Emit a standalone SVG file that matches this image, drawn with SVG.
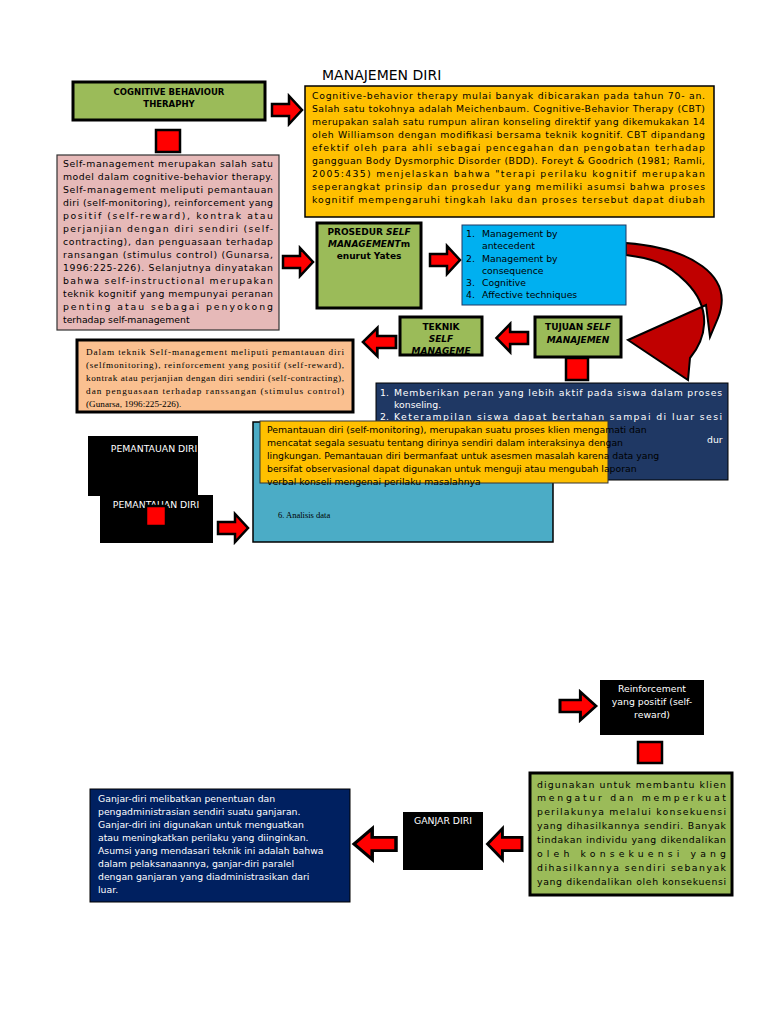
<svg xmlns="http://www.w3.org/2000/svg" width="768" height="1024" viewBox="0 0 768 1024">
<style>
.b{stroke:#000;stroke-width:3}
.t{font-family:"DejaVu Sans",sans-serif;font-size:9.3px;fill:#000}
.w{font-family:"DejaVu Sans",sans-serif;font-size:9.3px;fill:#fff}
.h{font-family:"DejaVu Sans",sans-serif;font-size:9px;font-weight:bold;fill:#000;text-anchor:middle}
.s{font-family:"Liberation Serif",serif;font-size:9.2px;fill:#000}
.ar{fill:#ff0000;stroke:#000;stroke-width:2.5}
</style>
<defs>
<path id="ar" d="M0,-6 H17 V-14 L30,0 L17,14 V6 H0 Z"/>
</defs>
<rect width="768" height="1024" fill="#fff"/>
<text x="322" y="80" style="font-family:'DejaVu Sans',sans-serif;font-size:14px">MANAJEMEN DIRI</text>

<g id="connectors">
<use href="#ar" class="ar" transform="translate(272,110)"/>
<rect x="156" y="130" width="24" height="22" class="ar"/>
<use href="#ar" class="ar" transform="translate(283,262)"/>
<use href="#ar" class="ar" transform="translate(430,260)"/>
<path d="M626,243 C690,248 735,275 718,318 L710,337 L706,305 L628,340 L688,380 L690,358 C705,340 714,310 686,282 C666,262 650,258 626,255 Z" fill="#c00000" stroke="#000" stroke-width="2"/>
<use href="#ar" class="ar" transform="translate(528,338) scale(-1.05,1)"/>
<use href="#ar" class="ar" transform="translate(396,342) scale(-1.1,1)"/>
<rect x="566" y="358" width="22" height="22" class="ar"/>
<use href="#ar" class="ar" transform="translate(218,528)"/>
<use href="#ar" class="ar" transform="translate(560,706) scale(1.2,1)"/>
<rect x="638" y="742" width="24" height="21" class="ar"/>
<use href="#ar" class="ar" transform="translate(522,844) scale(-1.15,1.1)"/>
<use href="#ar" class="ar" transform="translate(396,844) scale(-1.4,1.1)"/>
</g>

<g id="cbt">
<rect x="73" y="82" width="192" height="38" fill="#9bbb59" class="b"/>
<text x="169" y="95" class="h" style="font-size:8.5px">COGNITIVE BEHAVIOUR</text>
<text x="169" y="107" class="h" style="font-size:8.5px">THERAPHY</text>
</g>

<g id="cbt-text">
<rect x="305" y="86" width="409" height="131" fill="#ffc000" stroke="#000" stroke-width="1.5"/>
<text class="t">
<tspan x="312" y="99" textLength="393" lengthAdjust="spacing">Cognitive-behavior therapy mulai banyak dibicarakan pada tahun 70- an.</tspan>
<tspan x="312" y="112" textLength="393" lengthAdjust="spacing">Salah satu tokohnya adalah Meichenbaum. Cognitive-Behavior Therapy (CBT)</tspan>
<tspan x="312" y="125" textLength="393" lengthAdjust="spacing">merupakan salah satu rumpun aliran konseling direktif yang dikemukakan 14</tspan>
<tspan x="312" y="138" textLength="393" lengthAdjust="spacing">oleh Williamson dengan modifikasi bersama teknik kognitif. CBT dipandang</tspan>
<tspan x="312" y="151" textLength="393" lengthAdjust="spacing">efektif oleh para ahli sebagai pencegahan dan pengobatan terhadap</tspan>
<tspan x="312" y="164" textLength="393" lengthAdjust="spacing">gangguan Body Dysmorphic Disorder (BDD). Foreyt &amp; Goodrich (1981; Ramli,</tspan>
<tspan x="312" y="177" textLength="393" lengthAdjust="spacing">2005:435) menjelaskan bahwa "terapi perilaku kognitif merupakan</tspan>
<tspan x="312" y="190" textLength="393" lengthAdjust="spacing">seperangkat prinsip dan prosedur yang memiliki asumsi bahwa proses</tspan>
<tspan x="312" y="203" textLength="393" lengthAdjust="spacing">kognitif mempengaruhi tingkah laku dan proses tersebut dapat diubah</tspan>
</text>
</g>

<g id="self-management">
<rect x="57" y="155" width="222" height="175" fill="#e6b9b8" stroke="#333" stroke-width="1.2"/>
<text class="t">
<tspan x="63" y="167" textLength="210" lengthAdjust="spacing">Self-management merupakan salah satu</tspan>
<tspan x="63" y="180" textLength="210" lengthAdjust="spacing">model dalam cognitive-behavior therapy.</tspan>
<tspan x="63" y="193" textLength="210" lengthAdjust="spacing">Self-management meliputi pemantauan</tspan>
<tspan x="63" y="206" textLength="210" lengthAdjust="spacing">diri (self-monitoring), reinforcement yang</tspan>
<tspan x="63" y="219" textLength="210" lengthAdjust="spacing">positif (self-reward), kontrak atau</tspan>
<tspan x="63" y="232" textLength="210" lengthAdjust="spacing">perjanjian dengan diri sendiri (self-</tspan>
<tspan x="63" y="245" textLength="210" lengthAdjust="spacing">contracting), dan penguasaan terhadap</tspan>
<tspan x="63" y="258" textLength="210" lengthAdjust="spacing">ransangan (stimulus control) (Gunarsa,</tspan>
<tspan x="63" y="271" textLength="210" lengthAdjust="spacing">1996:225-226). Selanjutnya dinyatakan</tspan>
<tspan x="63" y="284" textLength="210" lengthAdjust="spacing">bahwa self-instructional merupakan</tspan>
<tspan x="63" y="297" textLength="210" lengthAdjust="spacing">teknik kognitif yang mempunyai peranan</tspan>
<tspan x="63" y="310" textLength="210" lengthAdjust="spacing">penting atau sebagai penyokong</tspan>
<tspan x="63" y="323">terhadap self-management</tspan>
</text>
</g>

<g id="prosedur">
<rect x="317" y="223" width="104" height="85" fill="#9bbb59" class="b"/>
<text x="369" y="235" class="h">PROSEDUR <tspan font-style="italic">SELF</tspan></text>
<text x="369" y="247" class="h"><tspan font-style="italic">MANAGEMENT</tspan>m</text>
<text x="369" y="259" class="h">enurut Yates</text>
</g>

<g id="yates-list">
<rect x="462" y="225" width="164" height="80" fill="#00b0f0" stroke="#1f3864" stroke-width="1"/>
<text class="t">
<tspan x="466" y="237">1.</tspan><tspan x="482" y="237">Management by</tspan>
<tspan x="482" y="249">antecedent</tspan>
<tspan x="466" y="262">2.</tspan><tspan x="482" y="262">Management by</tspan>
<tspan x="482" y="274">consequence</tspan>
<tspan x="466" y="286">3.</tspan><tspan x="482" y="286">Cognitive</tspan>
<tspan x="466" y="298">4.</tspan><tspan x="482" y="298">Affective techniques</tspan>
</text>
</g>

<g id="tujuan">
<rect x="535" y="317" width="86" height="40" fill="#9bbb59" class="b"/>
<text x="578" y="330" class="h">TUJUAN <tspan font-style="italic">SELF</tspan></text>
<text x="578" y="343" class="h" font-style="italic">MANAJEMEN</text>
</g>

<g id="teknik">
<rect x="400" y="317" width="82" height="38" fill="#9bbb59" class="b"/>
<text x="441" y="330" class="h">TEKNIK</text>
<text x="441" y="342" class="h" font-style="italic">SELF</text>
<text x="441" y="354" class="h" font-style="italic">MANAGEME</text>
</g>

<g id="teknik-text">
<rect x="77" y="340" width="276" height="72" fill="#fac090" class="b"/>
<text class="s">
<tspan x="86" y="355" textLength="258" lengthAdjust="spacing">Dalam teknik Self-management meliputi pemantauan diri</tspan>
<tspan x="86" y="368" textLength="258" lengthAdjust="spacing">(selfmonitoring), reinforcement yang positif (self-reward),</tspan>
<tspan x="86" y="381" textLength="258" lengthAdjust="spacing">kontrak atau perjanjian dengan diri sendiri (self-contracting),</tspan>
<tspan x="86" y="394" textLength="258" lengthAdjust="spacing">dan penguasaan terhadap ranssangan (stimulus control)</tspan>
<tspan x="86" y="407">(Gunarsa, 1996:225-226).</tspan>
</text>
</g>

<g id="tujuan-list">
<rect x="376" y="383" width="352" height="97" fill="#1f3864" stroke="#000" stroke-width="1"/>
<text class="w">
<tspan x="380" y="396">1.</tspan><tspan x="394" y="396" textLength="328" lengthAdjust="spacing">Memberikan peran yang lebih aktif pada siswa dalam proses</tspan>
<tspan x="394" y="408">konseling.</tspan>
<tspan x="380" y="420">2.</tspan><tspan x="394" y="420" textLength="328" lengthAdjust="spacing">Keterampilan siswa dapat bertahan sampai di luar sesi</tspan>
<tspan x="707" y="443">dur</tspan>
</text>
</g>

<g id="teknik-list">
<rect x="253" y="422" width="300" height="120" fill="#4bacc6" stroke="#000" stroke-width="1.5"/>
<text x="278" y="518" class="s" style="font-size:8.5px">6.   Analisis data</text>
</g>

<g id="pemantauan-text">
<rect x="260" y="421" width="348" height="62" fill="#ffc000" stroke="#333" stroke-width="1"/>
<text class="t">
<tspan x="267" y="433">Pemantauan diri (self-monitoring), merupakan suatu proses klien mengamati dan</tspan>
<tspan x="267" y="446">mencatat segala sesuatu tentang dirinya sendiri dalam interaksinya dengan</tspan>
<tspan x="267" y="459">lingkungan. Pemantauan diri bermanfaat untuk asesmen masalah karena data yang</tspan>
<tspan x="267" y="472">bersifat observasional dapat digunakan untuk menguji atau mengubah laporan</tspan>
<tspan x="267" y="485">verbal konseli mengenai perilaku masalahnya</tspan>
</text>
</g>

<g id="pemantauan1">
<rect x="88" y="436" width="110" height="60" fill="#000"/>
<text x="154" y="452" class="w" style="text-anchor:middle">PEMANTAUAN DIRI</text>
</g>
<g id="pemantauan2">
<rect x="100" y="495" width="113" height="48" fill="#000"/>
<text x="156" y="508" class="w" style="text-anchor:middle">PEMANTAUAN DIRI</text>
<rect x="146" y="506" width="20" height="20" class="ar"/>
</g>

<g id="reinforcement">
<rect x="600" y="680" width="104" height="55" fill="#000"/>
<text x="652" y="692" class="w" style="text-anchor:middle">Reinforcement</text>
<text x="652" y="705" class="w" style="text-anchor:middle">yang positif (self-</text>
<text x="652" y="718" class="w" style="text-anchor:middle">reward)</text>
</g>

<g id="reinforcement-text">
<rect x="530" y="773" width="202" height="122" fill="#9bbb59" class="b"/>
<text class="t">
<tspan x="537" y="788" textLength="189" lengthAdjust="spacing">digunakan untuk membantu klien</tspan>
<tspan x="537" y="801" textLength="189" lengthAdjust="spacing">mengatur dan memperkuat</tspan>
<tspan x="537" y="815" textLength="189" lengthAdjust="spacing">perilakunya melalui konsekuensi</tspan>
<tspan x="537" y="829" textLength="189" lengthAdjust="spacing">yang dihasilkannya sendiri. Banyak</tspan>
<tspan x="537" y="843" textLength="189" lengthAdjust="spacing">tindakan individu yang dikendalikan</tspan>
<tspan x="537" y="857" textLength="189" lengthAdjust="spacing">oleh konsekuensi yang</tspan>
<tspan x="537" y="871" textLength="189" lengthAdjust="spacing">dihasilkannya sendiri sebanyak</tspan>
<tspan x="537" y="885" textLength="189" lengthAdjust="spacing">yang dikendalikan oleh konsekuensi</tspan>
</text>
</g>

<g id="ganjar">
<rect x="403" y="812" width="80" height="58" fill="#000"/>
<text x="443" y="824" class="w" style="text-anchor:middle">GANJAR DIRI</text>
</g>

<g id="ganjar-text">
<rect x="90" y="789" width="260" height="113" fill="#002060" stroke="#000" stroke-width="1"/>
<text class="w">
<tspan x="98" y="802">Ganjar-diri melibatkan penentuan dan</tspan>
<tspan x="98" y="815">pengadministrasian sendiri suatu ganjaran.</tspan>
<tspan x="98" y="828">Ganjar-diri ini digunakan untuk rnenguatkan</tspan>
<tspan x="98" y="841">atau meningkatkan perilaku yang diinginkan.</tspan>
<tspan x="98" y="854">Asumsi yang mendasari teknik ini adalah bahwa</tspan>
<tspan x="98" y="867">dalam pelaksanaannya, ganjar-diri paralel</tspan>
<tspan x="98" y="880">dengan ganjaran yang diadministrasikan dari</tspan>
<tspan x="98" y="893">luar.</tspan>
</text>
</g>
</svg>
